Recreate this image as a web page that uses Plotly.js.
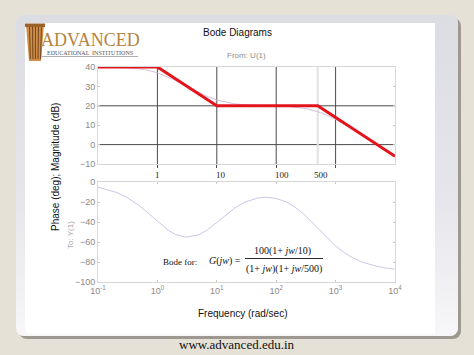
<!DOCTYPE html>
<html>
<head>
<meta charset="utf-8">
<script src="https://cdn.plot.ly/plotly-3.0.1.min.js"></script>
<style>
  html, body { margin:0; padding:0; width:474px; height:355px; overflow:hidden; background:#e6e1d7; }
  #panel { position:absolute; left:16px; top:15px; width:442px; height:321px; border-radius:8px;
           background:linear-gradient(to bottom, #dcdce3 0%, #e6e6ec 60%, #f7f7f9 100%);
           box-shadow:3px 3px 0 #9e9990; }
  #white { position:absolute; left:25px; top:23px; width:410px; height:311px;
           background:#ffffff; border-bottom-left-radius:6px; }
  #chart { position:absolute; left:0; top:0; width:474px; height:355px; }
</style>
</head>
<body>
<div id="panel"></div>
<div id="white"></div>
<div id="chart"></div>
<script>
// ---- data ----
const freq = [0.1,0.2,0.3,0.5,0.7,1,1.5,2,3,5,7,10,15,20,30,50,70,100,150,200,300,500,700,1000,1500,2000,3000,5000,7000,10000];
const magnitudeDb = [40.0,39.8,39.6,39.0,38.3,37.0,35.0,33.2,30.4,26.8,24.7,23.0,21.6,21.0,20.5,20.1,20.0,19.9,19.7,19.4,18.7,17.0,15.3,13.0,10.0,7.7,4.3,0.0,-2.9,-6.0];
const phaseDeg = [-5.2,-10.2,-15.0,-23.8,-31.1,-39.4,-48.0,-52.4,-55.2,-52.7,-47.7,-40.4,-31.6,-26.0,-20.0,-15.9,-15.3,-16.5,-20.1,-24.4,-32.7,-46.0,-55.2,-63.9,-71.9,-76.2,-80.7,-84.4,-86.0,-87.2];
const asymFreq = [0.1, 1, 10, 500, 10000];
const asymMag = [40, 40, 20, 20, -6];
const magTicks = [-10, 0, 10, 20, 30, 40];
const phaseTicks = [-100, -80, -60, -40, -20, 0];
const freqTicks = [0.1, 1, 10, 100, 1000, 10000];
const freqTickText = ['10<sup>-1</sup>','10<sup>0</sup>','10<sup>1</sup>','10<sup>2</sup>','10<sup>3</sup>','10<sup>4</sup>'];
const darkFreqLines = [1, 10, 100, 1000];
const darkMagLines = [0, 20];
const cornerFreq = [500];
const cornerLabels = ['1', '10', '100', '500'];
const cornerLabelFreq = [1, 10, 100, 500];

// ---- helpers (pixel -> paper) ----
const W = 474, H = 355;
const PX = x => x / W;
const PY = y => 1 - y / H;

const grayTick = {family:'Liberation Sans, Arial, sans-serif', size:9, color:'#8a8a8a'};
const xDom = [PX(98), PX(395)];

const traces = [
  {x: freq, y: magnitudeDb, xaxis:'x', yaxis:'y', mode:'lines', line:{color:'#d7bedb', width:1}, hoverinfo:'skip'},
  {x: asymFreq, y: asymMag, xaxis:'x', yaxis:'y', mode:'lines', line:{color:'#e3141c', width:3}, hoverinfo:'skip'},
  {x: freq, y: phaseDeg, xaxis:'x2', yaxis:'y2', mode:'lines', line:{color:'#c8c8e8', width:1}, hoverinfo:'skip'}
];

const shapes = [];
darkFreqLines.forEach(f => shapes.push({type:'line', xref:'x', yref:'y domain', x0:f, x1:f, y0:0, y1:1,
  line:{color:'#4a4a4a', width:1}, layer:'below'}));
darkMagLines.forEach(m => shapes.push({type:'line', xref:'x domain', yref:'y', x0:0, x1:1, y0:m, y1:m,
  line:{color:'#4a4a4a', width:1}, layer:'below'}));
cornerFreq.forEach(f => shapes.push({type:'line', xref:'x', yref:'y domain', x0:f, x1:f, y0:0, y1:1,
  line:{color:'#e2e2e2', width:2}, layer:'below'}));
// fraction bar of the formula
shapes.push({type:'line', xref:'paper', yref:'paper', x0:PX(245), x1:PX(323), y0:PY(258.5), y1:PY(258.5), line:{color:'#111', width:0.9}});
// logo underline
shapes.push({type:'line', xref:'paper', yref:'paper', x0:PX(42), x1:PX(138), y0:PY(56.5), y1:PY(56.5), line:{color:'#9a9a9a', width:0.8}});
// logo pillar icon
function pxPath(pts){ return 'M' + pts.map(p => PX(p[0]).toFixed(5)+','+PY(p[1]).toFixed(5)).join(' L') + ' Z'; }
shapes.push({type:'path', xref:'paper', yref:'paper', path:pxPath([[26,25],[44,25],[41,61],[29,61]]), fillcolor:'#cf8f4a', line:{width:0}});
shapes.push({type:'path', xref:'paper', yref:'paper', path:pxPath([[25,23.5],[45,23.5],[45,27],[25,27]]), fillcolor:'#9c6128', line:{width:0}});
[29.5, 32.5, 35.5, 38.5, 41.5].forEach(x => shapes.push({type:'line', xref:'paper', yref:'paper',
  x0:PX(x), x1:PX(x + (35 - x)*0.15), y0:PY(27), y1:PY(59), line:{color:'#7a4a1e', width:1.1}}));

const ann = [];
function txt(text, x, y, size, color, family, extra){
  ann.push(Object.assign({text:text, xref:'paper', yref:'paper', x:PX(x), y:PY(y), xanchor:'center', yanchor:'middle',
    showarrow:false, font:{family:family, size:size, color:color}}, extra || {}));
}
const SANS = 'Liberation Sans, Arial, sans-serif';
const SERIF = 'Liberation Serif, Times New Roman, serif';
txt('Bode Diagrams', 237, 33, 10, '#111', SANS);
txt('From: U(1)', 246, 55, 8, '#8c8c8c', SANS);
txt('Phase (deg); Magnitude (dB)', 55, 167, 10, '#111', SANS, {textangle:-90});
txt('To: Y(1)', 70, 235, 8, '#a8a8a8', SANS, {textangle:-90});
txt('Frequency (rad/sec)', 242, 313, 10, '#111', SANS);
txt('www.advanced.edu.in', 237, 344, 13, '#111', SERIF);
txt('ADVANCED', 90, 40, 18, '#b5843f', SERIF);
txt('EDUCATIONAL  INSTITUTIONS', 90, 52.5, 6, '#555', SERIF);
txt('Bode for:', 180, 262, 9, '#111', SERIF);
txt('<i>G</i>(<i>jw</i>) =', 225, 261, 10, '#111', SERIF);
txt('100(1+ <i>jw</i>/10)', 282, 251, 10, '#111', SERIF);
txt('(1+ <i>jw</i>)(1+ <i>jw</i>/500)', 283.5, 268.5, 10, '#111', SERIF);
const labelShift = [0, 4, 6, 3];
cornerLabels.forEach((t,i) => ann.push({text:t, xref:'x', yref:'paper', x:Math.log10(cornerLabelFreq[i]), y:PY(174.5),
  xanchor:'center', yanchor:'middle', xshift:labelShift[i], showarrow:false, font:{family:SERIF, size:9, color:'#222'}}));

const layout = {
  width: W, height: H,
  margin: {l:0, r:0, t:0, b:0},
  paper_bgcolor: 'rgba(0,0,0,0)', plot_bgcolor: 'rgba(0,0,0,0)',
  showlegend: false,
  xaxis: {type:'log', domain:xDom, range:[-1,4], anchor:'y', showgrid:false, zeroline:false,
          showline:true, mirror:true, linecolor:'#d8d8d8', linewidth:1,
          tickvals:darkFreqLines, ticks:'outside', ticklen:3, tickcolor:'#4a4a4a', tickwidth:1, showticklabels:false},
  yaxis: {domain:[PY(164), PY(67)], range:[-10,40], anchor:'x', showgrid:false, zeroline:false,
          showline:true, mirror:'ticks', linecolor:'#d8d8d8', linewidth:1,
          tickvals:magTicks, ticks:'inside', ticklen:2, tickcolor:'#c8c8c8', tickfont:grayTick},
  xaxis2: {type:'log', domain:xDom, range:[-1,4], anchor:'y2', showgrid:false, zeroline:false,
          showline:true, mirror:'ticks', linecolor:'#d8d8d8', linewidth:1,
          tickvals:freqTicks, ticktext:freqTickText, ticks:'inside', ticklen:2, tickcolor:'#c8c8c8', tickfont:grayTick},
  yaxis2: {domain:[PY(282), PY(182)], range:[-100,0], anchor:'x2', showgrid:false, zeroline:false,
          showline:true, mirror:'ticks', linecolor:'#d8d8d8', linewidth:1,
          tickvals:phaseTicks, ticks:'inside', ticklen:2, tickcolor:'#c8c8c8', tickfont:grayTick},
  shapes: shapes,
  annotations: ann
};

Plotly.newPlot('chart', traces, layout, {displayModeBar:false});
</script>
</body>
</html>
